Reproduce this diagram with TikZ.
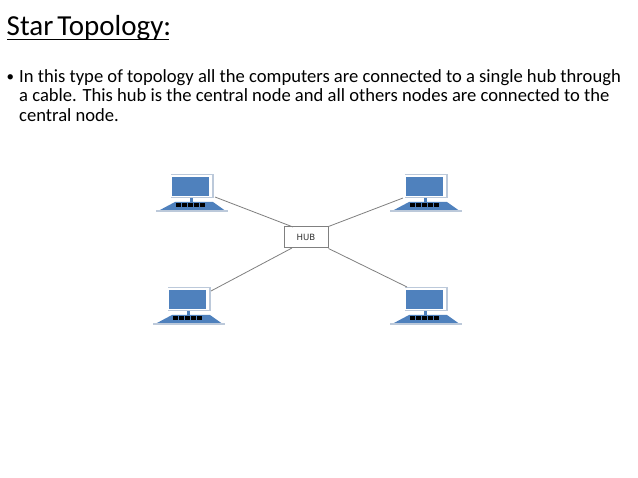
\documentclass[tikz,border=0pt]{standalone}
\usepackage{fontspec}
\setmainfont{Carlito}
\newfontfamily\hubfont{DejaVu Sans}
\definecolor{pcblue}{HTML}{4F81BD}
\definecolor{pcedge}{HTML}{BCC9DA}
\definecolor{wirecol}{HTML}{808080}
\tikzset{
  wire/.style={draw=wirecol,line width=0.8pt},
  hubbox/.style={draw=wirecol,line width=1pt,fill=white,minimum width=44pt,minimum height=21pt,inner sep=0pt,font=\hubfont\fontsize{8.6}{10}\selectfont,text=black!80},
  bodytext/.style={anchor=north west,inner sep=0pt,align=left,font=\fontsize{18.6}{19.8}\selectfont,text=black},
  pics/computer/.style={code={
    \fill[pcedge] (0,-0.5) rectangle (43,23.5);
    \fill[white] (-0.5,0.5) rectangle (40.5,22);
    \fill[pcblue] (1.3,1.7) rectangle (38.3,20.7);
    \fill[pcblue] (18.5,23.5) rectangle (22,27.5);
    \fill[pcblue] (4,27) -- (42,27) -- (54,35.5) -- (-12,35.5) -- cycle;
    \foreach \k in {0,1,2,3,4}{\fill[black] (5+\k*6.1,28.3) rectangle (10+\k*6.1,32);}
    \fill[pcedge] (-15,35.5) rectangle (57,37.5);
  }}
}
\begin{document}
\begin{tikzpicture}[x=1pt,y=-1pt]
\useasboundingbox (0,0) rectangle (638,478);
\fill[white] (0,0) rectangle (638,478);
\node[anchor=base west,inner sep=0pt,font=\fontsize{29}{32}\selectfont,text=black] (title) at (6.5,36) {\spaceskip=4pt\relax Star Topology:};
\draw[black,line width=1pt] (7,40) -- (169,40);
\node[anchor=base west,inner sep=0pt,font=\fontsize{15}{16}\selectfont,text=black] (bullet) at (6.5,82) {•};
\node[bodytext] (body) at (19,69) {\frenchspacing In this type of topology all the computers are connected to a single hub through\\a cable. This hub is the central node and all others nodes are connected to the\\central node.};
\pic at (171,175) {computer};
\pic at (405,175) {computer};
\pic at (168,288) {computer};
\pic at (405,288) {computer};
\coordinate (tl) at (215,197);
\coordinate (tr) at (403,198);
\coordinate (bl) at (211,291);
\coordinate (br) at (407,287);
\node[hubbox] (hub) at (306,237.5) {HUB};
\draw[wire] (tl) -- (293,227);
\draw[wire] (tr) -- (hub.north east);
\draw[wire] (bl) -- (292,248);
\draw[wire] (br) -- (hub.south east);
\end{tikzpicture}
\end{document}
